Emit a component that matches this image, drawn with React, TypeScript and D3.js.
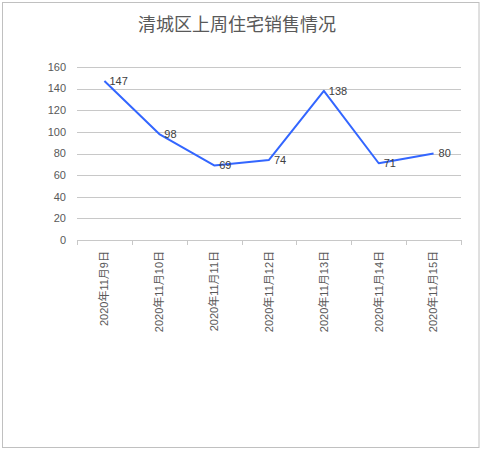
import * as d3 from "d3";
import { useEffect, useRef } from "react";

const categories = [
  "2020年11月9日",
  "2020年11月10日",
  "2020年11月11日",
  "2020年11月12日",
  "2020年11月13日",
  "2020年11月14日",
  "2020年11月15日",
];
const sales = [147, 98, 69, 74, 138, 71, 80];
const yTicks = [0, 20, 40, 60, 80, 100, 120, 140, 160];
const title = "清城区上周住宅销售情况";

export default function App() {
  const ref = useRef<SVGSVGElement>(null);

  useEffect(() => {
    if (!ref.current) return;
    const svg = d3.select(ref.current);
    svg.selectAll("*").remove();

    const width = 481;
    const height = 451;
    const margin = { top: 67, right: 20, bottom: 211, left: 77 };
    const innerWidth = 461 - margin.left;
    const innerHeight = 240 - margin.top;

    // Frame
    svg
      .append("rect")
      .attr("x", 2.5)
      .attr("y", 2.5)
      .attr("width", 476.5)
      .attr("height", 445)
      .attr("fill", "white")
      .attr("stroke", "#c0c0c0")
      .attr("stroke-width", 1);

    // Title
    svg
      .append("text")
      .attr("x", 237)
      .attr("y", 31)
      .attr("text-anchor", "middle")
      .attr("font-family", "'Noto Sans CJK SC', sans-serif")
      .attr("font-size", "18px")
      .attr("fill", "#595959")
      .text(title);

    const g = svg
      .append("g")
      .attr("transform", `translate(${margin.left},${margin.top})`);

    const x = d3
      .scaleBand()
      .domain(categories)
      .range([0, innerWidth])
      .padding(0);
    const y = d3.scaleLinear().domain([0, 160]).range([innerHeight, 0]);

    // Grid lines
    g.selectAll(".grid-line")
      .data(yTicks.filter((d) => d > 0))
      .enter()
      .append("line")
      .attr("x1", 0)
      .attr("x2", innerWidth)
      .attr("y1", (d) => Math.round(y(d)) + 0.5)
      .attr("y2", (d) => Math.round(y(d)) + 0.5)
      .attr("stroke", "#c8c8c8")
      .attr("stroke-width", 1);

    // Y axis labels
    g.selectAll(".y-label")
      .data(yTicks)
      .enter()
      .append("text")
      .attr("x", -11)
      .attr("y", (d) => y(d))
      .attr("dy", "0.35em")
      .attr("text-anchor", "end")
      .attr("font-family", "'Liberation Sans', sans-serif")
      .attr("font-size", "11px")
      .attr("fill", "#595959")
      .text((d) => d);

    // X axis
    const xAxis = g
      .append("g")
      .attr("transform", `translate(0,${innerHeight})`);
    xAxis
      .append("line")
      .attr("x1", 0)
      .attr("x2", innerWidth)
      .attr("y1", 0.5)
      .attr("y2", 0.5)
      .attr("stroke", "#c8c8c8");
    const bounds = categories.map((c) => x(c)!).concat([innerWidth]);
    xAxis
      .selectAll(".tick")
      .data(bounds)
      .enter()
      .append("line")
      .attr("x1", (d) => Math.round(d) + 0.5)
      .attr("x2", (d) => Math.round(d) + 0.5)
      .attr("y1", 0)
      .attr("y2", 5)
      .attr("stroke", "#c8c8c8");
    xAxis
      .selectAll(".x-label")
      .data(categories)
      .enter()
      .append("text")
      .attr(
        "transform",
        (d) => `translate(${x(d)! + x.bandwidth() / 2},11) rotate(-90)`
      )
      .attr("dy", "0.35em")
      .attr("text-anchor", "end")
      .attr("font-family", "'Liberation Sans', 'Noto Sans CJK SC', sans-serif")
      .attr("font-size", "11px")
      .attr("fill", "#595959")
      .text((d) => d);

    // Line
    const line = d3
      .line<number>()
      .x((_, i) => x(categories[i])! + x.bandwidth() / 2)
      .y((d) => y(d));
    g.append("path")
      .datum(sales)
      .attr("d", line)
      .attr("fill", "none")
      .attr("stroke", "#3366ff")
      .attr("stroke-width", 2)
      .attr("stroke-linejoin", "round");

    // Value labels
    g.selectAll(".value-label")
      .data(sales)
      .enter()
      .append("text")
      .attr("x", (_, i) => x(categories[i])! + x.bandwidth() / 2 + 5)
      .attr("y", (d) => y(d))
      .attr("dy", "0.35em")
      .attr("font-family", "'Liberation Sans', sans-serif")
      .attr("font-size", "11px")
      .attr("fill", "#404040")
      .text((d) => d);

    return () => {
      svg.selectAll("*").remove();
    };
  }, []);

  return (
    <svg
      ref={ref}
      width={481}
      height={451}
      style={{ position: "absolute", left: 0, top: 0 }}
    />
  );
}
